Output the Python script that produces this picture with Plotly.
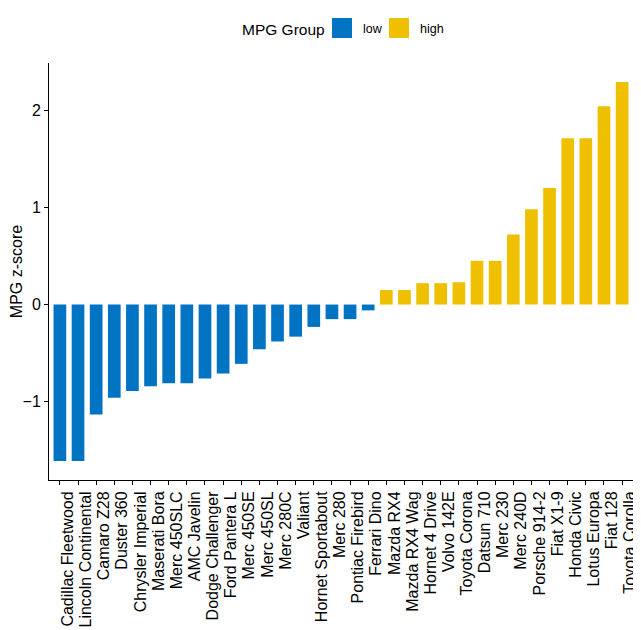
import plotly.graph_objects as go

cars = ["Cadillac Fleetwood", "Lincoln Continental", "Camaro Z28", "Duster 360",
        "Chrysler Imperial", "Maserati Bora", "Merc 450SLC", "AMC Javelin",
        "Dodge Challenger", "Ford Pantera L", "Merc 450SE", "Merc 450SL",
        "Merc 280C", "Valiant", "Hornet Sportabout", "Merc 280",
        "Pontiac Firebird", "Ferrari Dino", "Mazda RX4", "Mazda RX4 Wag",
        "Hornet 4 Drive", "Volvo 142E", "Toyota Corona", "Datsun 710",
        "Merc 230", "Merc 240D", "Porsche 914-2", "Fiat X1-9",
        "Honda Civic", "Lotus Europa", "Fiat 128", "Toyota Corolla"]
mpg_z = [-1.61, -1.61, -1.13, -0.96, -0.89, -0.84, -0.81, -0.81,
         -0.76, -0.71, -0.61, -0.46, -0.38, -0.33, -0.23, -0.15,
         -0.15, -0.06, 0.15, 0.15, 0.22, 0.22, 0.23, 0.45,
         0.45, 0.72, 0.98, 1.20, 1.71, 1.71, 2.04, 2.29]
groups = ["low", "high"]
colors = {"low": "#0073C2", "high": "#EFC000"}

fig = go.Figure()
for g in groups:
    xs = [c for c, v in zip(cars, mpg_z) if (v < 0) == (g == "low")]
    ys = [v for v in mpg_z if (v < 0) == (g == "low")]
    fig.add_trace(go.Bar(x=xs, y=ys, name=g, marker=dict(color=colors[g], line=dict(width=0)),
                         width=0.7, showlegend=False))

# page offset of 8px (body margin); figure drawn at (8,8)
W, H = 633, 622
ML, MR, MT, MB = 41, 8, 55, 150
PL, PR, PT, PB = 49, 633, 63, 480  # plot area in screen pixels

def px(x):
    return (x - PL) / (PR - PL)

def py(y):
    return (PB - y) / (PB - PT)

shapes = []
annotations = [dict(text="MPG Group", x=px(240), y=py(29), xref="paper", yref="paper",
                    xanchor="left", yanchor="middle", showarrow=False,
                    font=dict(size=15.5, color="black"))]
key_x = {"low": 332, "high": 389}
for g in groups:
    x0 = key_x[g]
    shapes.append(dict(type="rect", xref="paper", yref="paper",
                       x0=px(x0), x1=px(x0 + 20), y0=py(38), y1=py(18),
                       fillcolor=colors[g], line=dict(width=0)))
    annotations.append(dict(text=g, x=px(x0 + 29), y=py(29), xref="paper", yref="paper",
                            xanchor="left", yanchor="middle", showarrow=False,
                            font=dict(size=12.5, color="black")))

fig.update_layout(
    width=W, height=H,
    margin=dict(l=ML, r=MR, t=MT, b=MB),
    plot_bgcolor="white", paper_bgcolor="white",
    font=dict(family="Liberation Sans, Arial, sans-serif", color="black"),
    showlegend=False,
    bargap=0.3,
    shapes=shapes, annotations=annotations,
)
fig.update_xaxes(categoryorder="array", categoryarray=cars, range=[-0.6, 31.6],
                 tickmode="array", tickvals=cars, ticktext=cars,
                 tickangle=-90, tickfont=dict(size=16, color="black"),
                 ticklabelshift=8,
                 showline=True, linecolor="black", linewidth=1,
                 ticks="outside", ticklen=4, tickcolor="black", showgrid=False,
                 automargin=False)
fig.update_yaxes(range=[-1.805, 2.485], tickvals=[-1, 0, 1, 2],
                 tickfont=dict(size=16, color="black"),
                 title=dict(text="MPG z-score", font=dict(size=16), standoff=4),
                 showline=True, linecolor="black", linewidth=1,
                 ticks="outside", ticklen=4, tickcolor="black",
                 showgrid=False, zeroline=False, automargin=False)

fig.write_html("out.html")
